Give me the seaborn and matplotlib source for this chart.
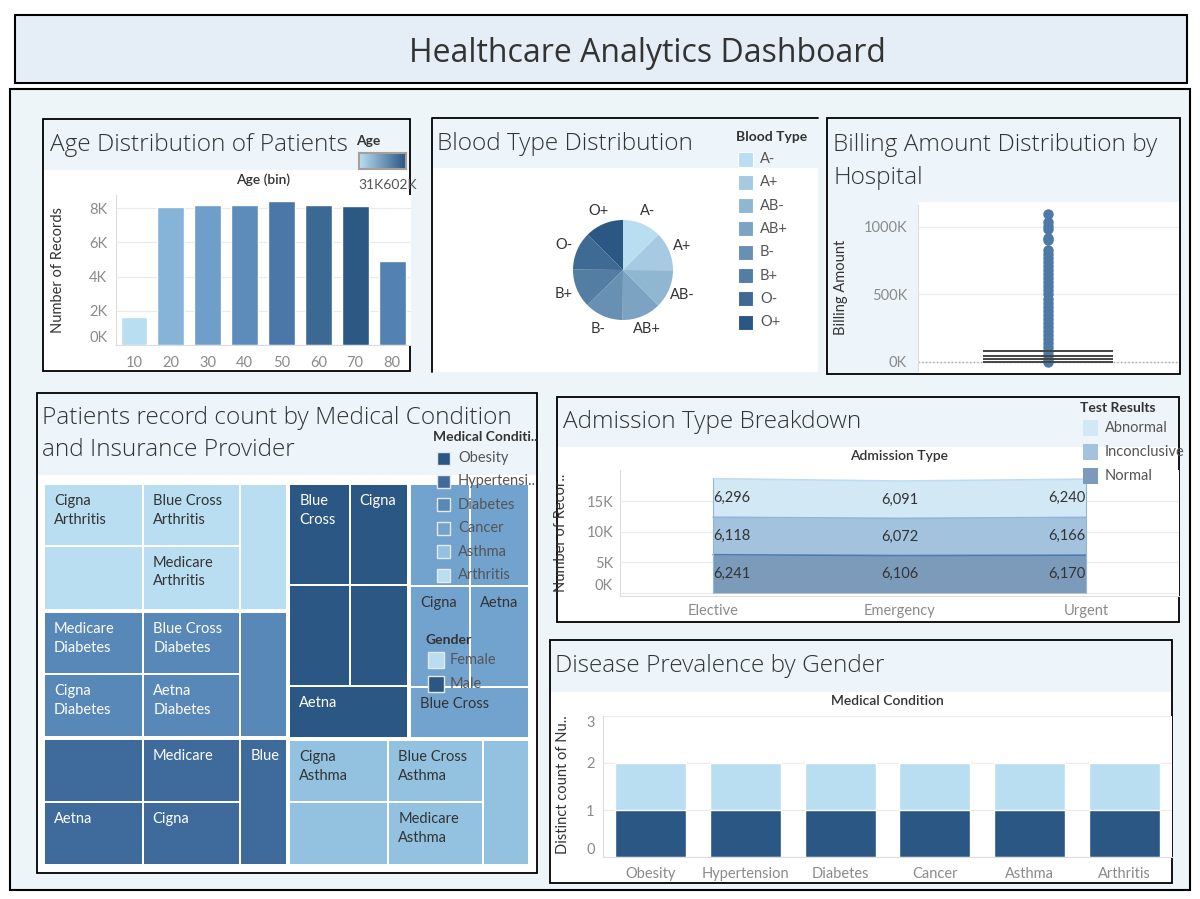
import matplotlib
matplotlib.use('Agg')
import matplotlib.pyplot as plt
from matplotlib.patches import Rectangle
from matplotlib.colors import LinearSegmentedColormap
import seaborn as sns
import numpy as np
import pandas as pd

# ---------------- data ----------------
age_bins = ['10', '20', '30', '40', '50', '60', '70', '80']
age_counts = [1660, 8060, 8200, 8190, 8410, 8190, 8140, 4940]

blood_types = ['A-', 'A+', 'AB-', 'AB+', 'B-', 'B+', 'O-', 'O+']
blood_counts = [6969, 6956, 6945, 6947, 6944, 6945, 6877, 6917]

billing_amounts = [2000, 25000, 50000, 80000, 110000, 140000, 170000, 200000,
                   230000, 260000, 290000, 320000, 350000, 380000, 410000,
                   440000, 470000, 500000, 530000, 560000, 590000, 620000,
                   650000, 680000, 710000, 740000, 770000, 800000, 830000,
                   900000, 920000, 985000, 1010000, 1040000, 1096000]
billing_box = [0, 20000, 47000, 84000]

admission_types = ['Elective', 'Emergency', 'Urgent']
test_results = ['Normal', 'Inconclusive', 'Abnormal']
normal_counts = [6241, 6106, 6170]
inconclusive_counts = [6118, 6072, 6166]
abnormal_counts = [6296, 6091, 6240]

conditions = ['Obesity', 'Hypertension', 'Diabetes', 'Cancer', 'Asthma', 'Arthritis']
male_distinct = [1, 1, 1, 1, 1, 1]
female_distinct = [1, 1, 1, 1, 1, 1]

# treemap cells per condition (drawing order), counts and visible labels
tm_providers = {
    'Arthritis': ['Cigna', 'UnitedHealthcare', 'Blue Cross', 'Medicare', 'Aetna'],
    'Diabetes': ['Medicare', 'Cigna', 'Blue Cross', 'Aetna', 'UnitedHealthcare'],
    'Hypertension': ['UnitedHealthcare', 'Aetna', 'Medicare', 'Cigna', 'Blue Cross'],
    'Obesity': ['Blue Cross', 'Medicare', 'Cigna', 'UnitedHealthcare', 'Aetna'],
    'Cancer': ['Medicare', 'Cigna', 'UnitedHealthcare', 'Aetna', 'Blue Cross'],
    'Asthma': ['Cigna', 'UnitedHealthcare', 'Blue Cross', 'Medicare', 'Aetna'],
}
tm_counts = {
    'Arthritis': [1840, 1930, 1820, 1910, 1810],
    'Diabetes': [1860, 1920, 1810, 1860, 1800],
    'Hypertension': [1880, 1880, 1860, 1860, 1800],
    'Obesity': [1850, 1850, 1800, 1800, 1860],
    'Cancer': [1830, 1830, 1830, 1830, 1830],
    'Asthma': [1870, 1890, 1800, 1820, 1730],
}
tm_labels = {
    'Arthritis': ['Cigna\nArthritis', '', 'Blue Cross\nArthritis', 'Medicare\nArthritis', ''],
    'Diabetes': ['Medicare\nDiabetes', 'Cigna\nDiabetes', 'Blue Cross\nDiabetes', 'Aetna\nDiabetes', ''],
    'Hypertension': ['', 'Aetna', 'Medicare', 'Cigna', 'Blue'],
    'Obesity': ['Blue\nCross', '', 'Cigna', '', 'Aetna'],
    'Cancer': ['', 'Cigna', '', 'Aetna', 'Blue Cross'],
    'Asthma': ['Cigna\nAsthma', '', 'Blue Cross\nAsthma', 'Medicare\nAsthma', ''],
}
tm_tree = ('h', [('v', ['Arthritis', 'Diabetes', 'Hypertension']),
                 ('v', [('h', ['Obesity', 'Cancer']), 'Asthma'])])

# ---------------- styles ----------------
sns.set_theme(style='white')
plt.rcParams['font.family'] = ['Lato', 'DejaVu Sans']

blues = LinearSegmentedColormap.from_list('tab_blue', ['#b9ddf1', '#2a5783'])
age_colors = ['#b9ddf1', '#86b3d8', '#6e9fcb', '#5d8cbb', '#4a77a8', '#3c6894', '#2c5884', '#5381b2']
blood_colors = [blues(i / 7) for i in range(8)]
cond_colors = {'Obesity': '#2a5783', 'Hypertension': '#3e6b9b', 'Diabetes': '#5888b8',
               'Cancer': '#72a3cf', 'Asthma': '#93c1e0', 'Arthritis': '#b9ddf1'}
result_colors = {'Abnormal': '#d3e8f5', 'Inconclusive': '#a3c2dd', 'Normal': '#7c9bbb'}
result_edges = {'Abnormal': '#bddcf0', 'Inconclusive': '#8fb5d8', 'Normal': '#4f7cac'}
HEAD = '#edf5fa'
DARK = '#333333'
TICK = '#8a8a8a'
GRID = '#ebebeb'
TITLE_FONT = ['Open Sans', 'Lato', 'DejaVu Sans']

W, H = 1200, 899
fig = plt.figure(figsize=(W / 100, H / 100), dpi=100)
fig.patch.set_facecolor('white')


def add_ax(x0, y0, x1, y1):
    return fig.add_axes([x0 / W, 1 - y1 / H, (x1 - x0) / W, (y1 - y0) / H])


def pixel_layer(z):
    a = add_ax(0, 0, W, H)
    a.set_xlim(0, W)
    a.set_ylim(H, 0)
    a.axis('off')
    a.set_zorder(z)
    return a


bg = pixel_layer(-5)
fg = pixel_layer(20)


def style_axes(ax, box, ylab, ylab_x, ylab_y):
    sns.despine(ax=ax, left=False, bottom=False, top=True, right=True)
    for s in ('left', 'bottom'):
        ax.spines[s].set_color('#dddddd')
        ax.spines[s].set_linewidth(0.8)
    ax.grid(axis='y', color=GRID, lw=0.8)
    ax.set_axisbelow(True)
    ax.tick_params(axis='both', length=0, labelsize=10.5, labelcolor=TICK)
    x0, y0, x1, y1 = box
    ax.set_ylabel(ylab, fontsize=10.5, color=DARK)
    ax.yaxis.set_label_coords((ylab_x - x0) / (x1 - x0), (y1 - ylab_y) / (y1 - y0))


def top_label(ax, box, text, y):
    x0, y0, x1, y1 = box
    ax.set_xlabel(text, fontsize=10, color=DARK, fontweight='semibold')
    ax.xaxis.set_label_position('top')
    ax.xaxis.set_label_coords(0.5, (y1 - y) / (y1 - y0))


def band_ticks(ax, n):
    ax.set_xticks([i + 0.5 for i in range(-1, n)], minor=True)
    ax.tick_params(axis='x', which='minor', length=5, color='#dddddd', width=0.8)


# ---------------- dashboard frame ----------------
bg.add_patch(Rectangle((15, 15), 1172, 68, fc='#e5eef6', ec='black', lw=1.5))
bg.add_patch(Rectangle((10, 89), 1180, 801, fc='#eef5f9', ec='black', lw=1.5))
fg.text(647, 62, 'Healthcare Analytics Dashboard', ha='center', va='baseline',
        fontsize=23, color=DARK, family=TITLE_FONT)

panels = [(43, 119, 410, 371, 170), (432, 118, 818, 372, 168), (827, 118, 1180, 374, 202),
          (37, 393, 537, 873, 475), (557, 397, 1179, 622, 447), (550, 640, 1172, 883, 692)]
for i, (x0, y0, x1, y1, hb) in enumerate(panels):
    bg.add_patch(Rectangle((x0, y0), x1 - x0, y1 - y0, fc='white', ec='none'))
    bg.add_patch(Rectangle((x0, y0), x1 - x0, hb - y0, fc=HEAD, ec='none'))
    if i == 1:
        bg.plot([x0, x0, x1], [y1, y0, y0], color='black', lw=1.3)
    else:
        bg.add_patch(Rectangle((x0, y0), x1 - x0, y1 - y0, fc='none', ec='black', lw=1.3))
bg.add_patch(Rectangle((828, 202), 90, 171, fc=HEAD, ec='none'))

title_kw = dict(fontsize=17.6, color=DARK, va='center', ha='left', fontweight='light',
                family=TITLE_FONT)
fg.text(50, 145, 'Age Distribution of Patients', **title_kw)
fg.text(437, 144, 'Blood Type Distribution', **title_kw)
fg.text(833, 145, 'Billing Amount Distribution by', **title_kw)
fg.text(833, 178, 'Hospital', **title_kw)
fg.text(42, 418, 'Patients record count by Medical Condition', **title_kw)
fg.text(42, 450, 'and Insurance Provider', **title_kw)
fg.text(563, 422, 'Admission Type Breakdown', **title_kw)
fg.text(555, 666, 'Disease Prevalence by Gender', **title_kw)

leg_title = dict(fontsize=10, color=DARK, fontweight='bold', va='center', ha='left')
leg_item = dict(fontsize=10.5, color='#555555', va='center', ha='left')

# ---------------- 1. age distribution ----------------
box1 = (115.6, 195, 410.5, 345)
ax1 = add_ax(*box1)
df_age = pd.DataFrame({'bin': age_bins, 'count': age_counts})
sns.barplot(data=df_age, x='bin', y='count', hue='bin', palette=age_colors, legend=False,
            saturation=1, width=0.73, ax=ax1)
ax1.set_xlim(-0.5, 7.5)
ax1.set_ylim(0, 8770)
ax1.set_yticks([0, 2000, 4000, 6000, 8000])
ax1.set_yticklabels(['0K', '2K', '4K', '6K', '8K'])
style_axes(ax1, box1, 'Number of Records', 65, 270)
top_label(ax1, box1, 'Age (bin)', 184)
ax1.tick_params(axis='y', pad=6)
ax1.tick_params(axis='x', pad=8)
ax1.get_yticklabels()[0].set_va('bottom')
band_ticks(ax1, 8)

fg.text(356, 141, 'Age', **leg_title)
grad = add_ax(359, 153, 406, 169)
grad.imshow(np.linspace(0, 1, 64)[None, :], aspect='auto', cmap=blues)
grad.set_xticks([])
grad.set_yticks([])
for s in grad.spines.values():
    s.set_color('#a8a098')
    s.set_linewidth(1.5)
fg.text(358, 185, '31K602K', fontsize=10, color='#555555', va='center', ha='left')

# ---------------- 2. blood type pie ----------------
ax2 = add_ax(623 - 70, 270 - 70, 623 + 70, 270 + 70)
wedges, texts = ax2.pie(blood_counts, labels=blood_types, colors=blood_colors, startangle=90,
                        counterclock=False, labeldistance=1.28,
                        wedgeprops=dict(linewidth=0),
                        textprops=dict(fontsize=10.5, color=DARK))
for t in texts:
    t.set_ha('center')
    t.set_va('center')
ax2.set_xlim(-1.4, 1.4)
ax2.set_ylim(-1.4, 1.4)
ax2.set_aspect('equal')
ax2.axis('off')

fg.text(736, 137, 'Blood Type', **leg_title)
for i, (bt, c) in enumerate(zip(blood_types, blood_colors)):
    yc = 159 + 23.3 * i
    fg.add_patch(Rectangle((738, yc - 7.5), 15, 15, fc=c, ec='white', lw=0.8))
    fg.text(760, yc, bt, **leg_item)

# ---------------- 3. billing amount ----------------
box3 = (918, 205, 1178, 371)
ax3 = add_ax(*box3)
sns.stripplot(y=billing_amounts, jitter=False, size=7.5, color='#4e79a7', linewidth=0, ax=ax3)
ax3.hlines(billing_box, -0.5, 0.5, colors='#444444', lw=1.4, zorder=5)
ax3.axhline(0, color='#aaaaaa', ls=':', lw=1, zorder=1)
ax3.set_xlim(-1, 1)
ax3.set_xticks([])
ax3.set_ylim(-67000, 1163000)
ax3.set_yticks([0, 500000, 1000000])
ax3.set_yticklabels(['0K', '500K', '1000K'])
style_axes(ax3, box3, 'Billing Amount', 848, 287)
ax3.spines['bottom'].set_visible(False)
ax3.tick_params(axis='y', pad=8)

# ---------------- 4. treemap ----------------
tm_box = (43, 483, 530, 866)
ax4 = add_ax(*tm_box)
tw, th = tm_box[2] - tm_box[0], tm_box[3] - tm_box[1]
ax4.set_xlim(0, tw)
ax4.set_ylim(th, 0)
ax4.axis('off')


def node_weight(node):
    if isinstance(node, str):
        return sum(tm_counts[node])
    return sum(node_weight(n) for n in node[1])


def split(rect, weights, direction):
    x, y, w, h = rect
    total = sum(weights)
    out = []
    for wt in weights:
        if direction == 'v':
            hh = h * wt / total
            out.append((x, y, w, hh))
            y += hh
        else:
            ww = w * wt / total
            out.append((x, y, ww, h))
            x += ww
    return out


def draw_group(cond, rect):
    vals = tm_counts[cond]
    x, y, w, h = rect
    if w >= h:
        cols = split(rect, [vals[0] + vals[1], vals[2] + vals[3], vals[4]], 'h')
        block = cols[:2]
        strip = cols[2]
    else:
        rows = split(rect, [sum(vals[:4]), vals[4]], 'v')
        block = split(rows[0], [vals[0] + vals[1], vals[2] + vals[3]], 'h')
        strip = rows[1]
    cells = split(block[0], vals[0:2], 'v') + split(block[1], vals[2:4], 'v') + [strip]
    dark = cond in ('Obesity', 'Hypertension', 'Diabetes')
    for (cx, cy, cw, ch), lab in zip(cells, tm_labels[cond]):
        ax4.add_patch(Rectangle((cx + 1, cy + 1), cw - 2, ch - 2, fc=cond_colors[cond], ec='none'))
        if lab:
            ax4.text(cx + 10, cy + 10, lab, ha='left', va='top', fontsize=10.5, linespacing=1.45,
                     color='white' if dark else DARK)


def layout(node, rect):
    if isinstance(node, str):
        x, y, w, h = rect
        draw_group(node, (x + 1, y + 1, w - 2, h - 2))
        return
    direction, kids = node
    for kid, r in zip(kids, split(rect, [node_weight(k) for k in kids], direction)):
        layout(kid, r)


layout(tm_tree, (0, 0, tw, th))

fg.text(433, 437, 'Medical Conditi..', **leg_title)
for i, cond in enumerate(conditions):
    yc = 458 + 23.4 * i
    fg.add_patch(Rectangle((437, yc - 6.5), 13, 13, fc=cond_colors[cond], ec='#e8e8e8', lw=1))
    fg.text(458, yc, 'Hypertensi..' if cond == 'Hypertension' else cond, **leg_item)
fg.text(426, 640, 'Gender', **leg_title)
for yc, lab, c in [(660, 'Female', '#b9ddf1'), (684, 'Male', '#2a5783')]:
    fg.add_patch(Rectangle((428, yc - 8), 16, 16, fc=c, ec='#e8e8e8', lw=1))
    fg.text(450, yc, lab, **leg_item)

# ---------------- 5. admission type stacked area ----------------
box5 = (620, 470, 1179, 596)
ax5 = add_ax(*box5)
xs = np.arange(len(admission_types))
layers = [('Normal', normal_counts), ('Inconclusive', inconclusive_counts), ('Abnormal', abnormal_counts)]
base = np.zeros(len(xs))
for name, vals in layers:
    top = base + np.array(vals)
    ax5.fill_between(xs, base, top, color=result_colors[name], lw=0, zorder=2)
    ax5.plot(xs, top, color=result_edges[name], lw=1.2, zorder=3)
    for i, v in enumerate(vals):
        ha = ['left', 'center', 'right'][i]
        ax5.text(xs[i], (base[i] + top[i]) / 2, f'{v:,}', ha=ha, va='center',
                 fontsize=10.5, color=DARK, zorder=4)
    base = top
ax5.plot([0, 0], [0, base[0]], color='#8fb5d8', lw=0.8, zorder=3)
ax5.plot([2, 2], [0, base[2]], color='#8fb5d8', lw=0.8, zorder=3)
ax5.set_xlim(-0.5, 2.5)
ax5.set_ylim(-490, 20070)
ax5.set_xticks(xs)
ax5.set_xticklabels(admission_types)
ax5.set_yticks([0, 5000, 10000, 15000])
ax5.set_yticklabels(['0K', '5K', '10K', '15K'])
style_axes(ax5, box5, 'Number of Recor..', 568, 533)
top_label(ax5, box5, 'Admission Type', 460)
ax5.tick_params(axis='y', pad=5)
ax5.tick_params(axis='x', pad=6)
ax5.get_yticklabels()[0].set_va('bottom')
band_ticks(ax5, 3)

fg.text(1080, 408, 'Test Results', **leg_title)
for yc, name in [(428, 'Abnormal'), (452, 'Inconclusive'), (476, 'Normal')]:
    fg.add_patch(Rectangle((1083, yc - 8), 15, 16, fc=result_colors[name], ec='none'))
    fg.text(1105, yc, name, **leg_item)

# ---------------- 6. disease prevalence by gender ----------------
box6 = (603, 716, 1172, 857)
ax6 = add_ax(*box6)
totals = np.array(male_distinct) + np.array(female_distinct)
sns.barplot(x=conditions, y=totals, color='#b9ddf1', saturation=1, width=0.75, ax=ax6)
sns.barplot(x=conditions, y=male_distinct, color='#2a5783', saturation=1, width=0.75, ax=ax6)
ax6.set_xlim(-0.5, 5.5)
ax6.set_ylim(0, 3)
ax6.set_yticks([0, 1, 2, 3])
style_axes(ax6, box6, 'Distinct count of Nu..', 570, 785)
top_label(ax6, box6, 'Medical Condition', 705)
ax6.grid(axis='y', color=GRID, lw=0.8)
ax6.tick_params(axis='y', pad=6)
ax6.tick_params(axis='x', pad=7)
ylabs = ax6.get_yticklabels()
ylabs[0].set_va('bottom')
ylabs[-1].set_va('top')
band_ticks(ax6, 6)

fig.savefig('out.png', dpi=100, facecolor='white')
